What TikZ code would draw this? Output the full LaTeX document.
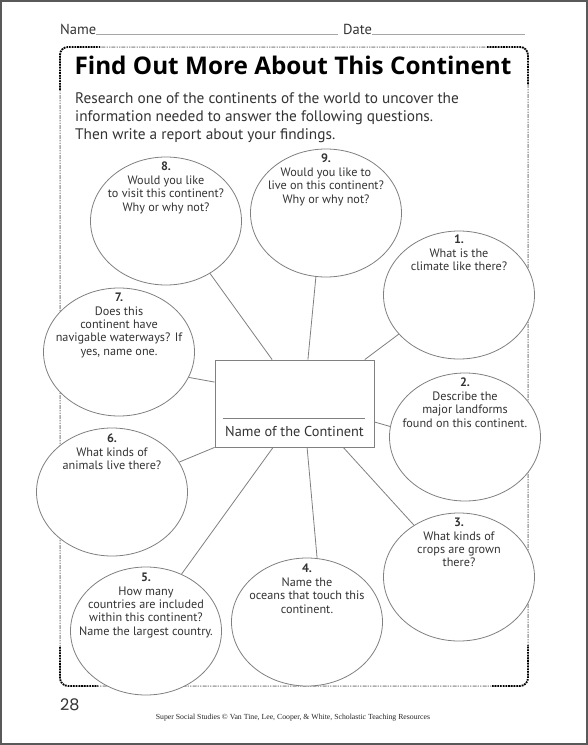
\documentclass[tikz,border=0pt]{standalone}
\usepackage{fontspec}
\setmainfont{PT Sans}
\newfontfamily\titlefont{Open Sans}
\newfontfamily\numfont{Poppins}
\newfontfamily\smallserif{Liberation Serif}
\usetikzlibrary{shapes.geometric,calc}
\definecolor{ringgray}{gray}{0.5}
\definecolor{linegray}{gray}{0.5}
\definecolor{textgray}{gray}{0.2}
\definecolor{bordergray}{gray}{0.68}
\definecolor{framegray}{gray}{0.35}
\begin{document}
\begin{tikzpicture}[x=1pt,y=-1pt,
  qcirc/.style={ellipse, draw=ringgray, line width=0.8pt, fill=white,
    minimum width=151pt, minimum height=128pt, inner sep=0pt},
  qtext/.style={anchor=north, align=center, inner sep=0pt, text=textgray,
    font=\fontsize{12.2}{13.4}\selectfont},
  link/.style={draw=linegray, line width=0.8pt},
  grayborder/.style={draw=bordergray, line width=1.5pt,
    dash pattern=on 4pt off 1.2pt on 1.2pt off 1.2pt on 1.2pt off 1.2pt},
  cornerdots/.style={draw=black, line width=1.8pt, dash pattern=on 1.6pt off 1.1pt},
  uline/.style={draw=gray!70, line width=0.8pt}]
\useasboundingbox (0,0) rectangle (588,745);
\fill[white] (0,0) rectangle (588,745);
\draw[framegray, line width=2pt] (1,1) rectangle (587,744);

% header
\node[anchor=base west, inner sep=0, font=\fontsize{14.5}{15}\selectfont, text=textgray] (namelbl) at (60,34) {Name};
\coordinate (nameend) at (338,34);
\draw[uline] (namelbl.base east) -- (nameend);
\node[anchor=base west, inner sep=0, font=\fontsize{14.5}{15}\selectfont, text=textgray] (datelbl) at (343,34) {Date};
\coordinate (dateend) at (525,34);
\draw[uline] (datelbl.base east) -- (dateend);

% border
\draw[grayborder, rounded corners=8pt] (60,47) rectangle (528,686);
\draw[cornerdots, rounded corners=8pt] (60,90) -- (60,47) -- (100,47);
\draw[cornerdots, rounded corners=8pt] (487,47) -- (528,47) -- (528,84);
\draw[cornerdots, rounded corners=8pt] (60,647) -- (60,686) -- (98,686);
\draw[cornerdots, rounded corners=8pt] (492,686) -- (528,686) -- (528,645);

% title and intro
\node[inner sep=0, font=\titlefont\fontsize{24.3}{25}\bfseries\selectfont] (title) at (293,65) {Find Out More About This Continent};
\node[anchor=north west, align=left, inner sep=0, text=textgray,
  font=\fontsize{15.3}{18}\selectfont] (intro) at (75,92)
  {Research one of the continents of the world to uncover the\\
   information needed to answer the following questions.\\
   Then write a report about your findings.};

% central box
\node[draw=linegray, line width=0.8pt, minimum width=159pt, minimum height=87pt, inner sep=0pt, fill=white] (box) at (294.5,403.5) {};

% ellipses
\node[qcirc] (q8) at (166,221) {};
\node[qcirc] (q9) at (326,213) {};
\node[qcirc] (q1) at (459,295) {};
\node[qcirc] (q2) at (465,437) {};
\node[qcirc] (q3) at (459,577) {};
\node[qcirc] (q4) at (307,622) {};
\node[qcirc] (q5) at (146,631) {};
\node[qcirc] (q6) at (112,492) {};
\node[qcirc] (q7) at (119,352) {};

% connectors
\draw[link] (q8.-50) -- (box.117);
\draw[link] (q9.261) -- (box.73);
\draw[link] (q1.213) -- (box.32);
\draw[link] (q2.172) -- (box.-13);
\draw[link] (q3.131) -- (box.-42);
\draw[link] (q4.81) -- (box.-74);
\draw[link] (q5.58) -- (box.-116);
\draw[link] (q6.24) -- (box.south west);
\draw[link] (q7.-20) -- (box.165);

% box contents
\coordinate (bl1) at ($(box.south west)+(8,-29)$);
\coordinate (bl2) at ($(box.south east)+(-9,-29)$);
\draw[link] (bl1) -- (bl2);
\node[inner sep=0, text=textgray, font=\fontsize{14.3}{15}\selectfont] (boxlbl) at ($(box.south)+(0,-16)$) {Name of the Continent};

% question texts
\node[qtext] (t8) at (166,162) {\textbf{8.}\\Would you like\\to visit this continent?\\Why or why not?};
\node[qtext] (t9) at (326,154) {\textbf{9.}\\Would you like to\\live on this continent?\\Why or why not?};
\node[qtext] (t1) at (459,235) {\textbf{1.}\\What is the\\climate like there?};
\node[qtext] (t2) at (465,378) {\textbf{2.}\\Describe the\\major landforms\\found on this continent.};
\node[qtext] (t3) at (459,518) {\textbf{3.}\\What kinds of\\crops are grown\\there?};
\node[qtext] (t4) at (307,564) {\textbf{4.}\\Name the\\oceans that touch this\\continent.};
\node[qtext] (t5) at (146,573) {\textbf{5.}\\How many\\countries are included\\within this continent?\\Name the largest country.};
\node[qtext] (t6) at (112,434) {\textbf{6.}\\What kinds of\\animals live there?};
\node[qtext] (t7) at (119,293) {\textbf{7.}\\Does this\\continent have\\navigable waterways? If\\yes, name one.};

% footer
\node[anchor=west, inner sep=0, text=textgray, font=\numfont\fontsize{16}{16}\selectfont] (pagenum) at (60,705) {28};
\node[inner sep=0, text=gray!30!black, font=\smallserif\fontsize{7.75}{8}\selectfont] (copy) at (293,718) {Super Social Studies \textcopyright{} Van Tine, Lee, Cooper, \& White, Scholastic Teaching Resources};
\end{tikzpicture}
\end{document}
